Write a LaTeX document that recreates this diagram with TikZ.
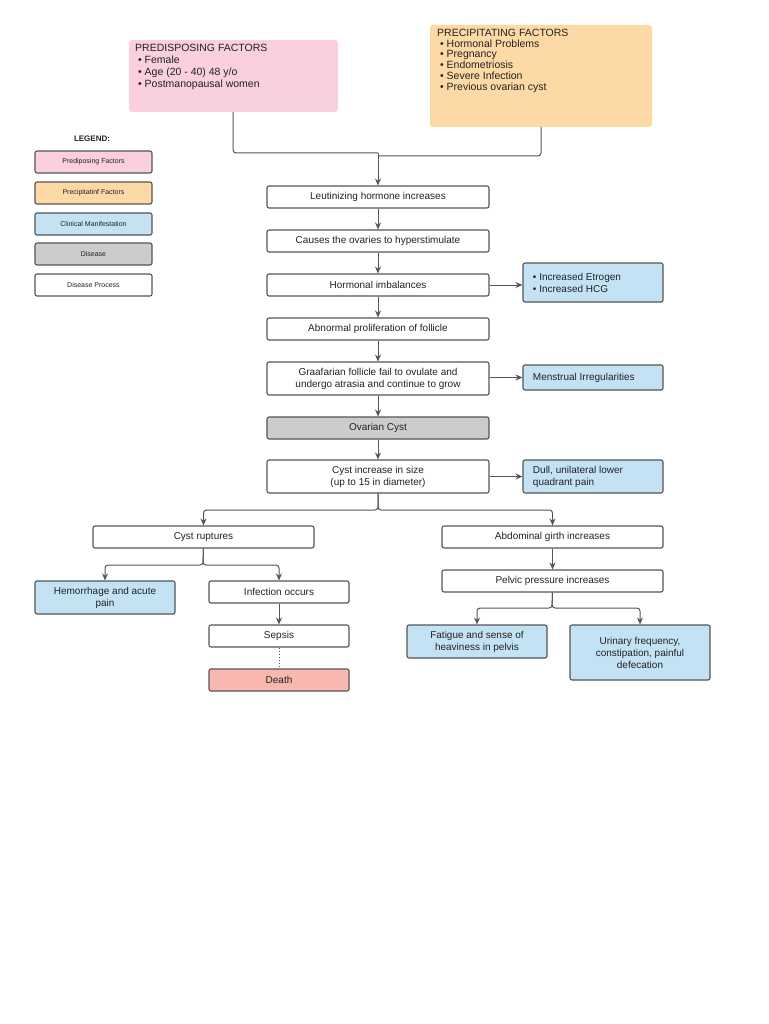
\documentclass[tikz,border=0pt]{standalone}
\usepackage{fontspec}
\setmainfont{Liberation Sans}
\usetikzlibrary{arrows.meta}
\definecolor{pinkc}{HTML}{F9D0DC}
\definecolor{orangec}{HTML}{FDD9A5}
\definecolor{bluec}{HTML}{C3E3F5}
\definecolor{grayc}{HTML}{CCCCCC}
\definecolor{redc}{HTML}{F9B8AF}
\definecolor{linec}{HTML}{555555}
\definecolor{textc}{HTML}{222222}
\begin{document}
\begin{tikzpicture}[x=1pt,y=-1pt,
  box/.style={draw=linec,line width=1.1pt,rounded corners=2pt,fill=white,text=textc,font=\fontsize{10}{12}\selectfont,align=center,inner sep=0pt},
  lg/.style={box,font=\fontsize{7}{8}\selectfont},
  fac/.style={rounded corners=3pt,text=textc,font=\fontsize{10.5}{13}\selectfont,align=left,inner sep=0pt},
  arr/.style={draw=linec,line width=1pt,-{Stealth[length=7pt,width=6pt]},rounded corners=3pt},
  ln/.style={draw=linec,line width=1pt,rounded corners=3pt}]
\useasboundingbox (0,0) rectangle (768,1024);
\newcommand{\bx}[6]{\node[#1,minimum width=#4-#2,minimum height=#5-#3] (#6) at ({(#2+#4)/2},{(#3+#5)/2}) {};}
% factors
\fill[pinkc,rounded corners=3pt] (129,40) rectangle (338,112);
\node[coordinate] (pd) at (233,112) {};
\node[fac,anchor=north west] (pdt) at (135,44) {PREDISPOSING FACTORS\\[-1pt]
\ \textbullet\ Female\\[-1pt] \ \textbullet\ Age (20 - 40) 48 y/o\\[-1pt] \ \textbullet\ Postmanopausal women};
\fill[orangec,rounded corners=3pt] (430,25) rectangle (652,127);
\node[coordinate] (pc) at (541,127) {};
\node[fac,anchor=north west] (pct) at (437,29) {PRECIPITATING FACTORS\\[-2.3pt]
\ \textbullet\ Hormonal Problems\\[-2.3pt] \ \textbullet\ Pregnancy\\[-2.3pt] \ \textbullet\ Endometriosis\\[-2.3pt] \ \textbullet\ Severe Infection\\[-2.3pt] \ \textbullet\ Previous ovarian cyst};
% legend
\node[text=textc,font=\fontsize{8}{9}\selectfont\bfseries] (lt) at (92,139) {LEGEND:};
\bx{lg,fill=pinkc}{35}{151}{152}{173}{l1}\node[font=\fontsize{7}{8}\selectfont,text=textc] at (l1) {Prediposing Factors};
\bx{lg,fill=orangec}{35}{182}{152}{204}{l2}\node[font=\fontsize{7}{8}\selectfont,text=textc] at (l2) {Precipitatinf Factors};
\bx{lg,fill=bluec}{35}{213}{152}{235}{l3}\node[font=\fontsize{7}{8}\selectfont,text=textc] at (l3) {Clinical Manifestation};
\bx{lg,fill=grayc}{35}{243}{152}{265}{l4}\node[font=\fontsize{7}{8}\selectfont,text=textc] at (l4) {Disease};
\bx{lg}{35}{274}{152}{296}{l5}\node[font=\fontsize{7}{8}\selectfont,text=textc] at (l5) {Disease Process};
% main
\bx{box}{267}{186}{489}{208}{a}\node[font=\fontsize{10}{12}\selectfont,text=textc] at (a) {Leutinizing hormone increases};
\bx{box}{267}{230}{489}{252}{b}\node[font=\fontsize{10}{12}\selectfont,text=textc] at (b) {Causes the ovaries to hyperstimulate};
\bx{box}{267}{274}{489}{296}{c}\node[font=\fontsize{10}{12}\selectfont,text=textc] at (c) {Hormonal imbalances};
\bx{box}{267}{318}{489}{340}{d}\node[font=\fontsize{10}{12}\selectfont,text=textc] at (d) {Abnormal proliferation of follicle};
\bx{box}{267}{362}{489}{395}{e}\node[font=\fontsize{10}{12}\selectfont,text=textc,align=center] at (e) {Graafarian follicle fail to ovulate and\\undergo atrasia and continue to grow};
\bx{box,fill=grayc}{267}{417}{489}{439}{f}\node[font=\fontsize{10}{12}\selectfont,text=textc] at (f) {Ovarian Cyst};
\bx{box}{267}{460}{489}{493}{g}\node[font=\fontsize{10}{12}\selectfont,text=textc,align=center] at (g) {Cyst increase in size\\(up to 15 in diameter)};
\bx{box,fill=bluec}{523}{263}{663}{302}{r1}\node[font=\fontsize{10}{12}\selectfont,text=textc,align=left,anchor=west] at ([xshift=7pt]r1.west) {\textbullet\ Increased Etrogen\\\textbullet\ Increased HCG};
\bx{box,fill=bluec}{523}{365}{663}{390}{r2}\node[font=\fontsize{10}{12}\selectfont,text=textc,anchor=west] at ([xshift=7pt]r2.west) {Menstrual Irregularities};
\bx{box,fill=bluec}{523}{460}{663}{493}{r3}\node[font=\fontsize{10}{12}\selectfont,text=textc,align=left,anchor=west] at ([xshift=7pt]r3.west) {Dull, unilateral lower\\quadrant pain};
\bx{box}{93}{526}{314}{548}{h}\node[font=\fontsize{10}{12}\selectfont,text=textc] at (h) {Cyst ruptures};
\bx{box}{442}{526}{663}{548}{i}\node[font=\fontsize{10}{12}\selectfont,text=textc] at (i) {Abdominal girth increases};
\bx{box}{442}{570}{663}{592}{j}\node[font=\fontsize{10}{12}\selectfont,text=textc] at (j) {Pelvic pressure increases};
\bx{box,fill=bluec}{35}{581}{175}{614}{k}\node[font=\fontsize{10}{12}\selectfont,text=textc,align=center] at (k) {Hemorrhage and acute\\pain};
\bx{box}{209}{581}{349}{603}{m}\node[font=\fontsize{10}{12}\selectfont,text=textc] at (m) {Infection occurs};
\bx{box}{209}{625}{349}{647}{n}\node[font=\fontsize{10}{12}\selectfont,text=textc] at (n) {Sepsis};
\bx{box,fill=redc}{209}{669}{349}{691}{o}\node[font=\fontsize{10}{12}\selectfont,text=textc] at (o) {Death};
\bx{box,fill=bluec}{407}{625}{547}{658}{p}\node[font=\fontsize{10}{12}\selectfont,text=textc,align=center] at (p) {Fatigue and sense of\\heaviness in pelvis};
\bx{box,fill=bluec}{570}{625}{710}{680}{q}\node[font=\fontsize{10}{12}\selectfont,text=textc,align=center] at (q) {Urinary frequency,\\constipation, painful\\defecation};
% connectors
\draw[ln] (pd) |- (378,153);
\draw[ln] (pc) |- (378,156);
\draw[arr] (378,153) -- (a.north);
\draw[arr] (a) -- (b);
\draw[arr] (b) -- (c);
\draw[arr] (c) -- (d);
\draw[arr] (d) -- (e);
\draw[arr] (e) -- (f);
\draw[arr] (f) -- (g);
\draw[arr] (c) -- (r1.west|-c);
\draw[arr] (e.east|-r2) -- (r2);
\draw[arr] (g.east|-r3) -- (r3);
\draw[arr] (g.south) -- (378,510) -| (h.north);
\draw[arr] (g.south) -- (378,510) -| (i.north);
\draw[arr] (h.south) -- (203,565) -| (k.north);
\draw[arr] (h.south) -- (203,565) -| (m.north);
\draw[arr] (i) -- (j);
\draw[arr] (m) -- (n);
\draw[ln,dotted] (n) -- (o);
\draw[arr] (j.south) -- (552,608) -| (p.north);
\draw[arr] (j.south) -- (552,608) -| (q.north);
\end{tikzpicture}
\end{document}
